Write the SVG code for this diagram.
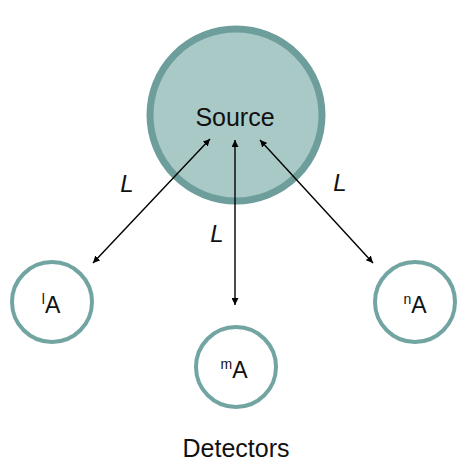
<svg xmlns="http://www.w3.org/2000/svg" width="474" height="474" viewBox="0 0 474 474">
<defs>
<marker id="ah" viewBox="0 0 10 10" refX="10" refY="5" markerWidth="7" markerHeight="7" orient="auto-start-reverse" markerUnits="userSpaceOnUse">
<path d="M0,0 L10,5 L0,10 z" fill="#000"/>
</marker>
<style>
.det{fill:#fff;stroke:#72a5a2;stroke-width:4}
.lbl{font-family:"Liberation Sans",Arial,sans-serif;fill:#111}
.L{font-family:"Liberation Sans",Arial,sans-serif;font-style:italic;font-size:24px;fill:#111;text-anchor:middle}
.conn{stroke:#000;stroke-width:1.4;fill:none;marker-start:url(#ah);marker-end:url(#ah)}
</style>
</defs>
<rect width="474" height="474" fill="#fff"/>
<g id="source">
<circle cx="236" cy="115" r="86" fill="#a9c9c7" stroke="#6d9e9b" stroke-width="7"/>
<text class="lbl" x="235" y="126" font-size="25" text-anchor="middle">Source</text>
</g>
<g id="detector-l">
<circle class="det" cx="52" cy="302" r="40"/>
<text class="lbl" x="51" y="313" font-size="23" text-anchor="middle"><tspan font-size="14" dy="-9">l</tspan><tspan dy="9">A</tspan></text>
</g>
<g id="detector-m">
<circle class="det" cx="236" cy="367" r="40"/>
<text class="lbl" x="234" y="378" font-size="23" text-anchor="middle"><tspan font-size="14" dy="-9">m</tspan><tspan dy="9">A</tspan></text>
</g>
<g id="detector-n">
<circle class="det" cx="415" cy="302" r="40"/>
<text class="lbl" x="415" y="313" font-size="23" text-anchor="middle"><tspan font-size="14" dy="-9">n</tspan><tspan dy="9">A</tspan></text>
</g>
<g id="connectors">
<line class="conn" x1="210" y1="139" x2="93" y2="263"/>
<line class="conn" x1="235" y1="140" x2="235" y2="305"/>
<line class="conn" x1="260" y1="140" x2="373" y2="263"/>
<text class="L" x="127" y="192">L</text>
<text class="L" x="217" y="242">L</text>
<text class="L" x="340" y="191">L</text>
</g>
<text id="detectors-label" class="lbl" x="236" y="457" font-size="25" text-anchor="middle">Detectors</text>
</svg>
